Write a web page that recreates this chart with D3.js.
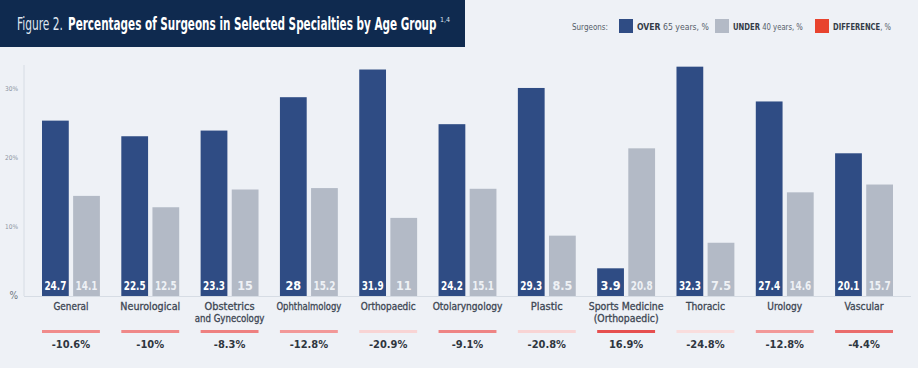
<!DOCTYPE html>
<html><head><meta charset="utf-8">
<script src="https://cdn.jsdelivr.net/npm/d3@7"></script>
<style>
html,body{margin:0;padding:0;background:#eef1f6;}
svg{display:block;}
text{font-family:"DejaVu Sans Condensed","DejaVu Sans",sans-serif;font-stretch:condensed;}
</style></head>
<body><svg id="c" width="918" height="368"></svg>
<script>
const categories = ["General","Neurological","Obstetrics\nand Gynecology","Ophthalmology","Orthopaedic","Otolaryngology","Plastic","Sports Medicine\n(Orthopaedic)","Thoracic","Urology","Vascular"];
const over65 = [24.7,22.5,23.3,28,31.9,24.2,29.3,3.9,32.3,27.4,20.1];
const under40 = [14.1,12.5,15,15.2,11,15.1,8.5,20.8,7.5,14.6,15.7];
const difference = [-10.6,-10,-8.3,-12.8,-20.9,-9.1,-20.8,16.9,-24.8,-12.8,-4.4];
const yTicks = [0,10,20,30];
const yTickLabels = ["%","10%","20%","30%"];
const seriesKeys = ["over","under"];
const legendItems = [{b:"OVER",r:" 65 years, %"},{b:"UNDER",r:" 40 years, %"},{b:"DIFFERENCE",r:", %"}];

const svg = d3.select("#c");
const W = 918, H = 368;
svg.append("rect").attr("width",W).attr("height",H).attr("fill","#eef1f6");

const cOver = "#2f4c84", cUnder = "#b3bac6", cDiff = "#e8432e";

// squeeze text horizontally (about its anchor) so it fits a max width
function squeeze(sel, maxW){
  sel.each(function(){
    const el = d3.select(this);
    const w = this.getBBox().width;
    if (w > maxW){
      const k = maxW / w;
      const tx = +el.attr("x") || 0, ty = +el.attr("y") || 0;
      const prev = el.attr("transform") || "";
      el.attr("x",0).attr("y",0).attr("transform", `${prev} translate(${tx},${ty}) scale(${k},1)`);
    }
  });
}

// title
svg.append("rect").attr("x",0).attr("y",0).attr("width",465).attr("height",47).attr("fill","#0f2a4f");
const t1 = svg.append("text").attr("x",17).attr("y",30).attr("fill","#dfe6f0").attr("font-size",18).attr("font-weight",400).text("Figure 2.");
squeeze(t1, 46);
const t2 = svg.append("text").attr("x",68).attr("y",30).attr("fill","#fff").attr("font-size",18).attr("font-weight",700)
  .text("Percentages of Surgeons in Selected Specialties by Age Group");
squeeze(t2, 369);
svg.append("text").attr("x",440).attr("y",22).attr("fill","#dfe6f0").attr("font-size",7).text("1,4");

// legend
const s = svg.append("text").attr("x",572).attr("y",30).attr("font-size",9).attr("fill","#555d69").text("Surgeons:");
squeeze(s, 36);
const lx = [619, 715, 815];
const lw = [72, 70, 58];
const lc = [cOver, cUnder, cDiff];
legendItems.forEach((it,i)=>{
  svg.append("rect").attr("x",lx[i]).attr("y",19).attr("width",14).attr("height",14).attr("fill",lc[i]);
  const tt = svg.append("text").attr("x",lx[i]+18).attr("y",30).attr("font-size",9.5).attr("fill","#333b47");
  tt.append("tspan").attr("font-weight",700).text(it.b);
  tt.append("tspan").attr("font-weight",400).attr("fill","#555d69").text(it.r);
  squeeze(tt, lw[i]);
});

// scales
const x = d3.scaleBand().domain(categories).range([42, 893]).paddingInner(0.27).paddingOuter(0);
const x1 = d3.scaleBand().domain(seriesKeys).range([0, x.bandwidth()]).paddingInner(0.14);
const y = d3.scaleLinear().domain([0, 33]).range([296, 296 - 33*7.1]);
const yAxisScale = d3.scaleLinear().domain([0, 30]).range([295, 88]);

// axis lines
svg.append("line").attr("x1",24).attr("x2",24).attr("y1",65).attr("y2",296).attr("stroke","#d6dce4").attr("stroke-width",1);
svg.append("line").attr("x1",24).attr("x2",911).attr("y1",296.5).attr("y2",296.5).attr("stroke","#d6dce4").attr("stroke-width",1);

const yAxis = d3.axisLeft(yAxisScale).tickValues(yTicks).tickSize(0).tickFormat((d,i)=>yTickLabels[i]);
const ga = svg.append("g").attr("transform","translate(21,0)").call(yAxis);
ga.select(".domain").remove();
ga.selectAll("text").attr("fill","#8b94a1").attr("font-size",6.5).attr("font-family",null)
  .filter((d,i)=>i===0).attr("font-size",10).attr("fill","#6b7480");

// bars
const rows = categories.map((c,i)=>({c, over:over65[i], under:under40[i], diff:difference[i]}));
const g = svg.append("g");
const grp = g.selectAll("g.cat").data(rows).join("g").attr("class","cat").attr("transform",d=>`translate(${x(d.c)},0)`);
grp.selectAll("rect").data(d=>seriesKeys.map(k=>({k, v:d[k]}))).join("rect")
  .attr("x",d=>x1(d.k)).attr("width",x1.bandwidth())
  .attr("y",d=>y(d.v)).attr("height",d=>y(0)-y(d.v))
  .attr("fill",d=>d.k==="over"?cOver:cUnder);
const vals = grp.selectAll("text.val").data(d=>seriesKeys.map(k=>({k, v:d[k]}))).join("text").attr("class","val")
  .attr("x",d=>x1(d.k)+x1.bandwidth()/2).attr("y",290)
  .attr("text-anchor","middle").attr("font-size",12.5).attr("font-weight",700)
  .attr("fill",d=>d.k==="over"?"#ffffff":"#eef1f5").text(d=>d.v);
squeeze(vals, 22);

// category labels
grp.each(function(d){
  const lines = d.c.split("\n");
  lines.forEach((l,j)=>{
    const tx = d3.select(this).append("text").attr("x",x.bandwidth()/2).attr("y",310 + j*12)
      .attr("text-anchor","middle").attr("font-size",11).attr("font-weight",400).attr("fill","#3d4653")
      .style("paint-order","stroke").attr("stroke","#3d4653").attr("stroke-width",0.3).text(l);
    squeeze(tx, l.length*5.0);
  });
});

// difference
const dc = d3.scaleLinear().domain([-25,-20,-12,-4,17]).range(["#f9dddd","#f8d2d2","#f19292","#ea6a6a","#e64f4f"]);
grp.append("rect").attr("x",0).attr("y",330).attr("width",x.bandwidth()).attr("height",3)
  .attr("fill",d=>dc(d.diff));
grp.append("text").attr("x",x.bandwidth()/2).attr("y",348).attr("text-anchor","middle")
  .attr("font-size",11).attr("font-weight",700).attr("fill","#2f3640").text(d=>d.diff+"%");
</script></body></html>
